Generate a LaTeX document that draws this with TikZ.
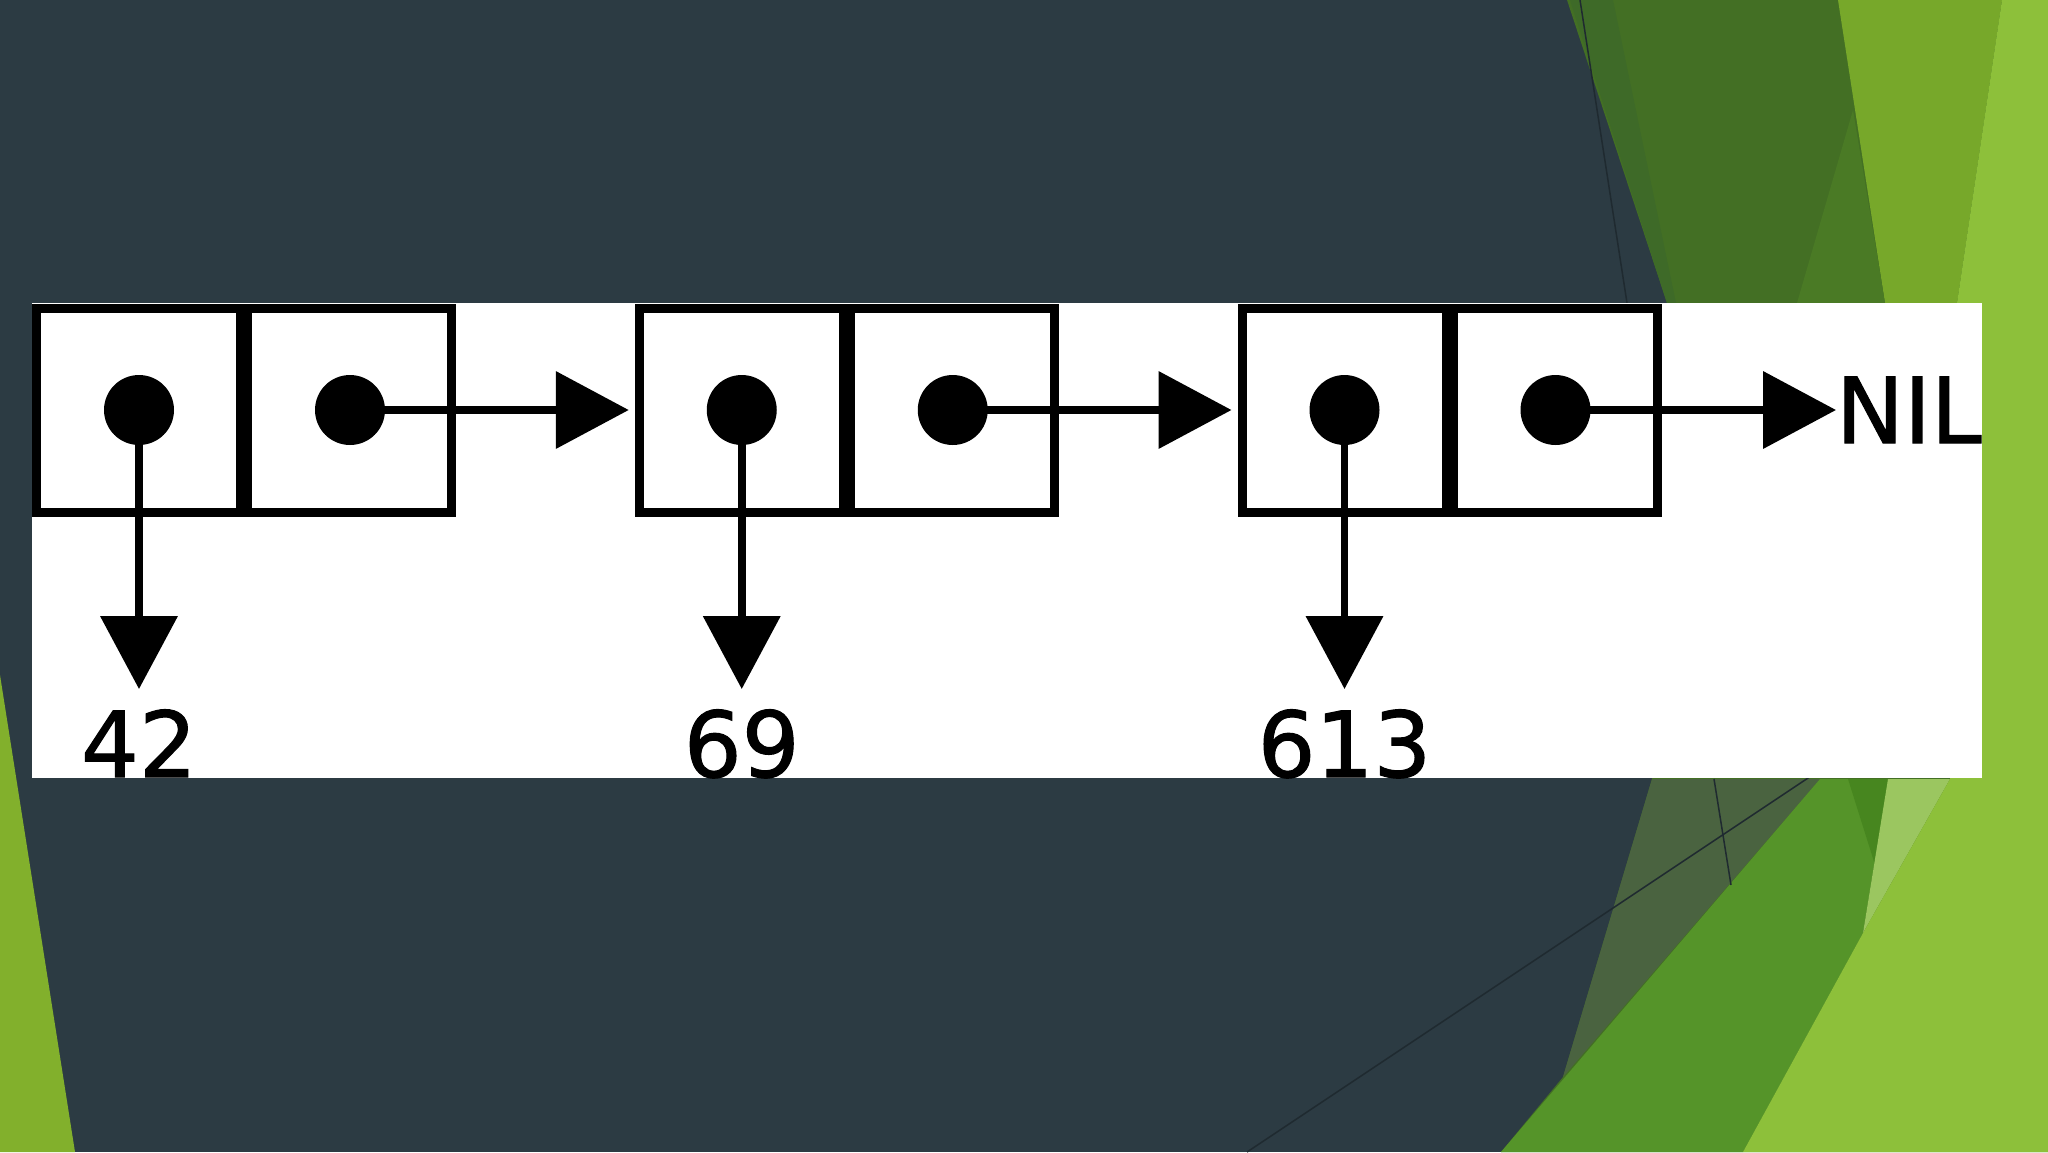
\documentclass[tikz,border=0pt]{standalone}
\usepackage{fontspec}
\setmainfont{DejaVu Sans}
\newfontfamily\valfont[FakeBold=1.2]{DejaVu Sans}
\usetikzlibrary{arrows.meta}
\definecolor{bgdark}{HTML}{2C3B43}
\definecolor{slivergreen}{HTML}{82B02C}
\definecolor{darkgreen}{HTML}{436F24}
\definecolor{darkgreenb}{HTML}{3E6A28}
\definecolor{midgreen}{HTML}{4A7A25}
\definecolor{lightgreen}{HTML}{77A82A}
\definecolor{limegreen}{HTML}{8DC03A}
\definecolor{olive}{HTML}{4A6340}
\definecolor{brightgreen}{HTML}{559429}
\definecolor{deepgreen}{HTML}{47861F}
\definecolor{palegreen}{HTML}{9BC660}
\definecolor{thinline}{HTML}{1F2A30}
\begin{document}
\begin{tikzpicture}[x=1pt,y=-1pt,
  cell/.style={draw=black, line width=9pt, minimum width=204pt, minimum height=204pt, inner sep=0pt, outer sep=0pt},
  dot/.style={circle, fill=black, minimum size=70pt, inner sep=0pt, outer sep=0pt},
  conn/.style={line width=7.5pt, -{Triangle[length=73pt,width=76pt]}},
  val/.style={font=\valfont\fontsize{91}{100}\selectfont, inner sep=0pt, outer sep=0pt, text height=66pt, text depth=0pt},
  seam/.style={draw=thinline, line width=1.5pt}
]
\useasboundingbox (0,0) rectangle (2048,1152);
% background
\fill[bgdark] (0,0) rectangle (2048,1152);
\fill[slivergreen] (0,675) -- (75,1152) -- (0,1152) -- cycle;
\fill[darkgreen] (1567,0) -- (1667,303) -- (1668,540) -- (1652,779) -- (1563,1077) -- (1501,1152) -- (2048,1152) -- (2048,0) -- cycle;
\fill[darkgreenb] (1570,0) -- (1613,0) -- (1676,303) -- (1667,303) -- cycle;
\fill[lightgreen] (1838,0) -- (2002,0) -- (1957,303) -- (1885,303) -- cycle;
\fill[midgreen] (1853,110) -- (1885,303) -- (1797,303) -- cycle;
\fill[limegreen] (2002,0) -- (2048,0) -- (2048,779) -- (1950,779) -- (1957,303) -- cycle;
\fill[olive] (1652,779) -- (1820,779) -- (1563,1077) -- cycle;
\fill[brightgreen] (1820,779) -- (1888,779) -- (1863,933) -- (1743,1152) -- (1501,1152) -- cycle;
\fill[deepgreen] (1848,779) -- (1890,779) -- (1876,868) -- cycle;
\fill[palegreen] (1888,779) -- (1950,779) -- (1863,933) -- cycle;
\fill[limegreen] (1950,779) -- (2048,779) -- (2048,1152) -- (1743,1152) -- (1863,933) -- cycle;
\draw[seam] (1580,0) -- (1627,303);
\draw[seam] (1247,1152) -- (1820,770);
\draw[seam] (1714,779) -- (1731,885);
% white panel
\fill[white] (31.5,303) rectangle (1982,778);
% cells
\foreach \i/\ox/\v in {1/0/42, 2/602.75/69, 3/1205.5/613}{
  \node[cell] (a\i) at (138.5+\ox,410) {};
  \node[cell] (b\i) at (349.5+\ox,410) {};
  \node[val, anchor=base] (v\i) at (139+\ox,777) {\v};
}
% connectors
\foreach \i in {1,2,3}{
  \draw[conn] ([xshift=0.5pt]a\i.center) -- ([yshift=22pt]v\i.north);
}
\draw[conn] ([xshift=0.5pt]b1.center) -- ([xshift=-10.5pt]a2.west);
\draw[conn] ([xshift=0.5pt]b2.center) -- ([xshift=-10.5pt]a3.west);
\begin{scope}
  \clip (31.5,303) rectangle (1982,778);
  \node[val, anchor=west] (nil) at (1836,410) {NIL};
\end{scope}
\draw[conn] ([xshift=0.5pt]b3.center) -- (nil.west);
% dots
\foreach \i/\ox in {1/0, 2/602.75, 3/1205.5}{
  \node[dot] (ad\i) at (139+\ox,410) {};
  \node[dot] (bd\i) at (350+\ox,410) {};
}
\end{tikzpicture}
\end{document}
